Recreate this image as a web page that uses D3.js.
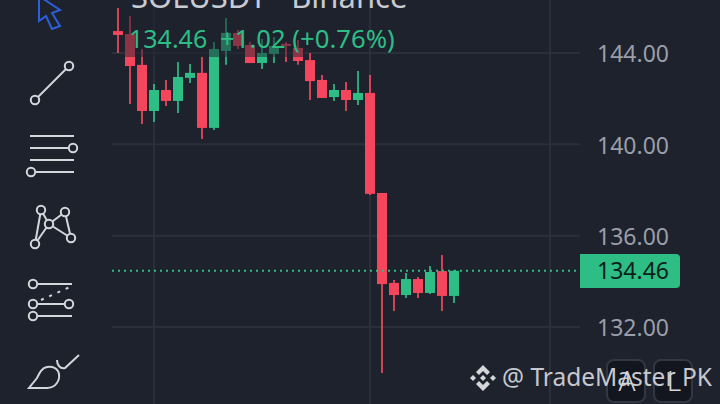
<!DOCTYPE html>
<html>
<head>
<meta charset="utf-8">
<script src="https://cdn.jsdelivr.net/npm/d3@7"></script>
<style>
  html, body { margin: 0; padding: 0; background: #1e222d; overflow: hidden; }
  svg { display: block; font-family: "Noto Sans", sans-serif; }
  .tick text { font-family: "Noto Sans", sans-serif; }
</style>
</head>
<body>
<div id="chart"></div>
<script>
const SIZE = Object.freeze({ WIDTH: 720, HEIGHT: 404 })
const COLORS = Object.freeze({
  BG: '#1e222d',
  GRID: '#2b2f3a',
  UP: '#2ebd85',
  DOWN: '#f6465d',
  AXIS_TEXT: '#9a9ea8',
  ICON: '#d5d6dc',
  CURSOR: '#2c5fdc',
})

const opens = [144.96, 144.83, 143.48, 141.46, 142.38, 141.90, 142.91, 143.13, 140.72, 144.09, 144.88, 144.35, 143.56, 143.96, 144.40, 144.22, 143.69, 142.82, 142.07, 142.38, 141.94, 142.25, 137.87, 133.93, 133.40, 134.10, 133.49, 134.45, 133.36]
const highs = [145.97, 145.62, 144.18, 142.64, 142.82, 143.61, 143.52, 143.83, 144.48, 145.53, 145.01, 144.48, 144.61, 144.70, 144.48, 144.57, 144.00, 143.04, 142.64, 142.73, 143.21, 143.04, 137.87, 134.06, 134.37, 134.19, 134.67, 135.15, 134.50]
const lows = [144.00, 141.77, 140.89, 140.98, 141.68, 141.37, 142.69, 140.23, 140.63, 143.48, 144.18, 143.56, 143.30, 143.56, 143.61, 143.48, 141.94, 142.03, 141.90, 141.46, 141.72, 137.78, 129.99, 132.70, 133.27, 133.27, 133.45, 132.70, 133.05]
const closes = [144.79, 143.43, 141.46, 142.38, 141.90, 142.95, 143.13, 140.72, 144.18, 144.88, 144.31, 143.56, 144.00, 144.31, 144.31, 143.65, 142.77, 142.03, 142.38, 141.94, 142.25, 137.83, 133.88, 133.40, 134.10, 133.49, 134.41, 133.36, 134.46]
const priceTicks = [132, 136, 140, 144]
const timeGridAt = [3, 21, 36]
const lastPrice = 134.46

const x = d3.scaleLinear().domain([0, 28]).range([118, 454])
const y = d3.scaleLinear().domain([132, 144]).range([327, 53])

const svg = d3.select('#chart')
  .append('svg')
  .attr('width', SIZE.WIDTH)
  .attr('height', SIZE.HEIGHT)

svg.append('rect')
  .attr('width', SIZE.WIDTH)
  .attr('height', SIZE.HEIGHT)
  .attr('fill', COLORS.BG)

// grid
svg.append('g')
  .selectAll('line')
  .data(priceTicks)
  .enter()
  .append('line')
  .attr('x1', 112)
  .attr('x2', 580)
  .attr('y1', d => y(d))
  .attr('y2', d => y(d))
  .attr('stroke', COLORS.GRID)
  .attr('stroke-width', 2)

svg.append('g')
  .selectAll('line')
  .data(timeGridAt)
  .enter()
  .append('line')
  .attr('x1', d => x(d))
  .attr('x2', d => x(d))
  .attr('y1', 0)
  .attr('y2', SIZE.HEIGHT)
  .attr('stroke', COLORS.GRID)
  .attr('stroke-width', 2)

// candles
const candles = opens.map((o, i) => ({ i, o, h: highs[i], l: lows[i], c: closes[i] }))
const candleColor = d => d.c >= d.o ? COLORS.UP : COLORS.DOWN

const candle = svg.append('g')
  .selectAll('g')
  .data(candles)
  .enter()
  .append('g')

candle.append('line')
  .attr('x1', d => x(d.i))
  .attr('x2', d => x(d.i))
  .attr('y1', d => y(d.h))
  .attr('y2', d => y(d.l))
  .attr('stroke', candleColor)
  .attr('stroke-opacity', 0.85)
  .attr('stroke-width', 2)

candle.append('rect')
  .attr('x', d => x(d.i) - 5)
  .attr('width', 10)
  .attr('y', d => y(Math.max(d.o, d.c)))
  .attr('height', d => Math.max(2, Math.abs(y(d.o) - y(d.c))))
  .attr('fill', candleColor)

// last price line
svg.append('line')
  .attr('x1', 112)
  .attr('x2', 580)
  .attr('y1', y(lastPrice))
  .attr('y2', y(lastPrice))
  .attr('stroke', COLORS.UP)
  .attr('stroke-width', 2)
  .attr('stroke-dasharray', '2 4')

// legend backdrop dims candles behind the text
svg.append('rect')
  .attr('x', 125)
  .attr('y', 0)
  .attr('width', 180)
  .attr('height', 57)
  .attr('fill', COLORS.BG)
  .attr('opacity', 0.5)

svg.append('text')
  .attr('x', 131)
  .attr('y', 8)
  .attr('fill', '#c8cbd2')
  .style('font-size', '31px')
  .text('SOLUSDT · Binance')

svg.append('text')
  .attr('x', 129)
  .attr('y', 48)
  .attr('fill', COLORS.UP)
  .style('font-size', '25px')
  .text(d3.format('.2f')(lastPrice))

svg.append('text')
  .attr('x', 220)
  .attr('y', 48)
  .attr('fill', COLORS.UP)
  .style('font-size', '25.7px')
  .text('+1.02 (+0.76%)')

// price axis
const yAxis = d3.axisRight(y)
  .tickValues(priceTicks)
  .tickFormat(d3.format('.2f'))
  .tickSize(0)

const axisG = svg.append('g')
  .attr('transform', 'translate(597, 0)')
  .call(yAxis)
axisG.select('.domain').remove()
axisG.selectAll('text')
  .attr('x', 0)
  .attr('dy', '0.38em')
  .attr('fill', COLORS.AXIS_TEXT)
  .style('font-size', '23px')

// last price tag
svg.append('path')
  .attr('d', 'M580 254H676a4 4 0 0 1 4 4V284a4 4 0 0 1 -4 4H580Z')
  .attr('fill', COLORS.UP)
svg.append('text')
  .attr('x', 597)
  .attr('y', y(lastPrice))
  .attr('dy', '0.36em')
  .attr('fill', '#0c1f1a')
  .style('font-size', '23px')
  .text(d3.format('.2f')(lastPrice))

// toolbar icons
const icons = svg.append('g')
  .attr('fill', 'none')
  .attr('stroke', COLORS.ICON)
  .attr('stroke-width', 2)

const drawLines = (rows) => {
  rows.forEach(([x1, y1, x2, y2]) => {
    icons.append('line').attr('x1', x1).attr('y1', y1).attr('x2', x2).attr('y2', y2)
  })
}
const drawDots = (rows) => {
  rows.forEach(([cx, cy]) => {
    icons.append('circle').attr('cx', cx).attr('cy', cy).attr('r', 4.2).attr('fill', COLORS.BG)
  })
}

// cursor
svg.append('path')
  .attr('d', 'M39 -4L60 10L52 13L60 26L52 29L46 16L39 21Z')
  .attr('fill', 'none')
  .attr('stroke', COLORS.CURSOR)
  .attr('stroke-width', 2)

// trend line
drawLines([[35, 100, 69, 66]])
drawDots([[35, 100], [69, 66]])

// parallel channel
drawLines([[30, 136, 74, 136], [30, 148, 73, 148], [30, 160, 74, 160], [31, 172, 74, 172]])
drawDots([[73, 148], [31, 172]])

// xabcd pattern
drawLines([[41, 210, 35, 244], [35, 244, 49, 224], [41, 210, 49, 224], [49, 224, 65, 212], [65, 212, 71, 238], [49, 224, 71, 238]])
drawDots([[41, 210], [65, 212], [49, 224], [35, 244], [71, 238]])

// fib lines
drawLines([[33, 284, 72, 284], [33, 304, 69, 304], [33, 316, 72, 316]])
icons.append('line')
  .attr('x1', 41).attr('y1', 300).attr('x2', 70).attr('y2', 287)
  .attr('stroke-dasharray', '3 6')
drawDots([[33, 284], [33, 304], [69, 304], [33, 316]])

// brush
icons.append('path').attr('d', 'M29 388H47C56 388 60 380 59 374C58 368 52 366 47 367C42 368 40 372 37 378Z')
icons.append('path').attr('d', 'M57 360C57 365 60 369 65 368L79 355')

// A / L buttons
const buttons = [['A', 607], ['L', 654]]
buttons.forEach(([label, left]) => {
  svg.append('rect')
    .attr('x', left)
    .attr('y', 360)
    .attr('width', 38)
    .attr('height', 42)
    .attr('rx', 7)
    .attr('fill', '#13161f')
    .attr('stroke', '#333743')
    .attr('stroke-width', 2)
})

// watermark, sits over the buttons
svg.append('g')
  .attr('transform', 'translate(483, 378)')
  .selectAll('path')
  .data(['M0 -13L7 -6L4 -3L0 -7L-4 -3L-7 -6Z', 'M0 13L7 6L4 3L0 7L-4 3L-7 6Z', 'M-13 0L-10 -3L-7 0L-10 3Z', 'M13 0L10 -3L7 0L10 3Z', 'M0 -3L3 0L0 3L-3 0Z'])
  .enter()
  .append('path')
  .attr('d', d => d)
  .attr('fill', '#d5d6da')

svg.append('text')
  .attr('x', 502)
  .attr('y', 386)
  .attr('fill', '#c6c8ce')
  .style('font-size', '24.5px')
  .text('@ TradeMaster PK')

buttons.forEach(([label, left]) => {
  svg.append('text')
    .attr('x', left + 20)
    .attr('y', 391)
    .attr('text-anchor', 'middle')
    .attr('fill', '#d5d6da')
    .style('font-size', '28px')
    .style('font-weight', 300)
    .text(label)
})
</script>
</body>
</html>
